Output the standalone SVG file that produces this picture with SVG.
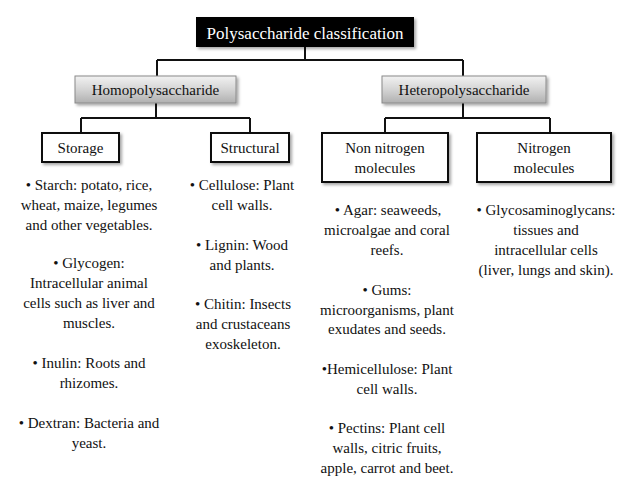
<svg xmlns="http://www.w3.org/2000/svg" width="638" height="478" viewBox="0 0 638 478">
<defs>
<linearGradient id="gr" x1="0" y1="0" x2="0" y2="1">
<stop offset="0" stop-color="#f2f2f2"/>
<stop offset="0.5" stop-color="#d4d4d4"/>
<stop offset="1" stop-color="#b0b0b0"/>
</linearGradient>
<filter id="sh" x="-10%" y="-20%" width="125%" height="150%">
<feDropShadow dx="2" dy="2" stdDeviation="1.5" flood-color="#000" flood-opacity="0.35"/>
</filter>
<style>
text{font-family:'Liberation Serif','Times New Roman','DejaVu Serif',serif;font-size:15px;fill:#111;text-anchor:middle}
.t{fill:#fff;font-size:17px}
.box{fill:#fff;stroke:#111;stroke-width:2}
.grey{fill:url(#gr);stroke:#8a8a8a;stroke-width:1}
.con{fill:none;stroke:#111;stroke-width:2}
</style>
</defs>
<rect width="638" height="478" fill="#fff"/>
<g id="connectors">
<path class="con" d="M305 47V60M157 60H463M157 60V76M463 60V76"/>
<path class="con" d="M156 103V118M81 118H250M81 118V133M250 118V133"/>
<path class="con" d="M463 103V118M385 118H550M385 118V133M550 118V133"/>
</g>
<g id="root">
<rect x="196" y="17" width="218" height="30" fill="#000" filter="url(#sh)"/>
<text class="t" x="305" y="39" font-family="Liberation Serif, serif">Polysaccharide classification</text>
</g>
<g id="homo">
<rect class="grey" x="75" y="76" width="161" height="27" filter="url(#sh)"/>
<text x="155.5" y="95">Homopolysaccharide</text>
</g>
<g id="hetero">
<rect class="grey" x="382" y="76" width="164" height="27" filter="url(#sh)"/>
<text x="464" y="95">Heteropolysaccharide</text>
</g>
<g id="storage">
<rect class="box" x="42" y="133" width="77" height="29" filter="url(#sh)"/>
<text x="80.5" y="153">Storage</text>
</g>
<g id="structural">
<rect class="box" x="211" y="133" width="78" height="29" filter="url(#sh)"/>
<text x="250" y="153">Structural</text>
</g>
<g id="nonnitrogen">
<rect class="box" x="322" y="133" width="126" height="49" filter="url(#sh)"/>
<text x="385" y="153">Non nitrogen</text>
<text x="385" y="173">molecules</text>
</g>
<g id="nitrogen">
<rect class="box" x="477" y="133" width="134" height="49" filter="url(#sh)"/>
<text x="544" y="153">Nitrogen</text>
<text x="544" y="173">molecules</text>
</g>
<g id="storage-list">
<text x="89" y="190">• Starch: potato, rice,</text>
<text x="89" y="210">wheat, maize, legumes</text>
<text x="89" y="230">and other vegetables.</text>
<text x="89" y="268">• Glycogen:</text>
<text x="89" y="288">Intracellular animal</text>
<text x="89" y="308">cells such as liver and</text>
<text x="89" y="328">muscles.</text>
<text x="89" y="368">• Inulin: Roots and</text>
<text x="89" y="388">rhizomes.</text>
<text x="89" y="428">• Dextran: Bacteria and</text>
<text x="89" y="448">yeast.</text>
</g>
<g id="structural-list">
<text x="242" y="190">• Cellulose: Plant</text>
<text x="242" y="210">cell walls.</text>
<text x="242" y="250">• Lignin: Wood</text>
<text x="242" y="270">and plants.</text>
<text x="243" y="309">• Chitin: Insects</text>
<text x="243" y="329">and crustaceans</text>
<text x="243" y="349">exoskeleton.</text>
</g>
<g id="nonnitrogen-list">
<text x="388" y="215">• Agar: seaweeds,</text>
<text x="387" y="235">microalgae and coral</text>
<text x="387" y="255">reefs.</text>
<text x="387" y="295">• Gums:</text>
<text x="387" y="315">microorganisms, plant</text>
<text x="387" y="334">exudates and seeds.</text>
<text x="387" y="374">•Hemicellulose: Plant</text>
<text x="387" y="394">cell walls.</text>
<text x="387" y="433">• Pectins: Plant cell</text>
<text x="387" y="453">walls, citric fruits,</text>
<text x="387" y="473">apple, carrot and beet.</text>
</g>
<g id="nitrogen-list">
<text x="546" y="215">• Glycosaminoglycans:</text>
<text x="546" y="235">tissues and</text>
<text x="546" y="255">intracellular cells</text>
<text x="546" y="275">(liver, lungs and skin).</text>
</g>
</svg>
